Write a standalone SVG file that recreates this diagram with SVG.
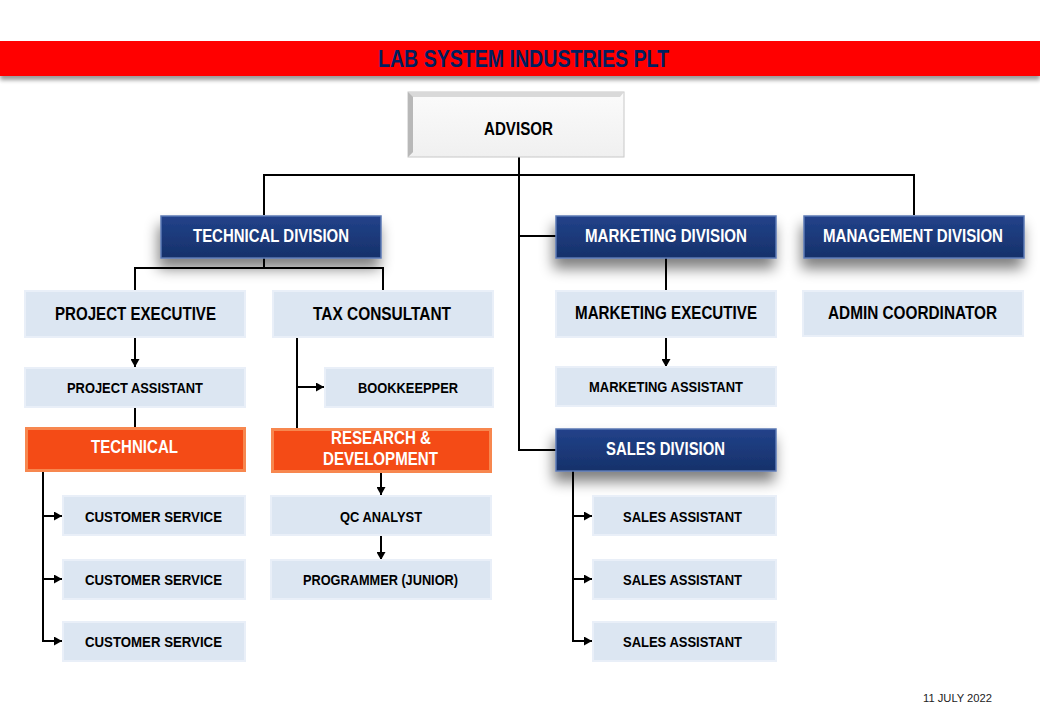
<svg xmlns="http://www.w3.org/2000/svg" width="1040" height="720" viewBox="0 0 1040 720">
<defs>
<style>
text{font-family:"Liberation Sans",Arial,sans-serif;font-weight:bold;}
.lt{fill:#dce6f2;stroke:#e9eff8;stroke-width:2;}
.nv{fill:url(#gNavy);stroke:#5b78b4;stroke-width:1.5;}
.or{fill:#f44b16;stroke:#f7874f;stroke-width:3;}
.w{fill:#ffffff;}
.b{fill:#000000;}
.c{fill:none;stroke:#000;stroke-width:2;}
.a{marker-end:url(#arr);}
</style>
<linearGradient id="gNavy" x1="0" y1="0" x2="0" y2="1">
<stop offset="0" stop-color="#22428a"/>
<stop offset="1" stop-color="#16316a"/>
</linearGradient>
<linearGradient id="gAdv" x1="0" y1="0" x2="0" y2="1">
<stop offset="0" stop-color="#fbfbfb"/>
<stop offset="1" stop-color="#f0f0f0"/>
</linearGradient>
<filter id="sh" x="-30%" y="-40%" width="160%" height="220%">
<feGaussianBlur in="SourceAlpha" stdDeviation="7"/>
<feOffset dx="-2" dy="10" result="o"/>
<feComponentTransfer><feFuncA type="linear" slope="0.5"/></feComponentTransfer>
<feMerge><feMergeNode/><feMergeNode in="SourceGraphic"/></feMerge>
</filter>
<filter id="sh2" x="-5%" y="-20%" width="110%" height="160%">
<feGaussianBlur in="SourceAlpha" stdDeviation="2"/>
<feOffset dx="0" dy="4"/>
<feComponentTransfer><feFuncA type="linear" slope="0.4"/></feComponentTransfer>
<feMerge><feMergeNode/><feMergeNode in="SourceGraphic"/></feMerge>
</filter>
<marker id="arr" markerUnits="userSpaceOnUse" markerWidth="9" markerHeight="9" refX="8" refY="4.5" orient="auto">
<path d="M0,0 L8,4.5 L0,9 z" fill="#000"/>
</marker>
</defs>
<rect width="1040" height="720" fill="#ffffff"/>

<g id="title">
<rect x="0" y="41" width="1040" height="35" fill="#ff0000" filter="url(#sh2)"/>
<text x="378" y="67" font-size="23" fill="#002060" textLength="291" lengthAdjust="spacingAndGlyphs">LAB SYSTEM INDUSTRIES PLT</text>
</g>

<g id="connectors">
<path class="c" d="M519 157 V450 H556"/>
<path class="c" d="M519 236 H556"/>
<path class="c" d="M264 215 V175 H914 V215"/>
<path class="c" d="M264 258 V268"/>
<path class="c" d="M135 290 V268 H383 V290"/>
<path class="c a" d="M135 338 V367"/>
<path class="c" d="M135 407 V427"/>
<path class="c" d="M297 338 V428"/>
<path class="c a" d="M297 387 H324"/>
<path class="c" d="M666 258 V290"/>
<path class="c a" d="M666 338 V367"/>
<path class="c a" d="M381 472 V495"/>
<path class="c a" d="M381 536 V560"/>
<path class="c a" d="M43 472 V641 H62"/>
<path class="c a" d="M43 516 H62"/>
<path class="c a" d="M43 579 H62"/>
<path class="c a" d="M573 471 V641 H592"/>
<path class="c a" d="M573 516 H592"/>
<path class="c a" d="M573 579 H592"/>
</g>

<g id="advisor">
<rect x="408" y="92" width="216" height="65" fill="url(#gAdv)" stroke="#c8c8c8" stroke-width="1"/>
<path d="M408 92 H624 L620 97 H413 V152 L408 157 Z" fill="#d9d9d9"/>
<path d="M408 92 L413 97 V152 L408 157 Z" fill="#b8b8b8"/>
<text x="484" y="135" font-size="18" class="b" textLength="69" lengthAdjust="spacingAndGlyphs">ADVISOR</text>
</g>

<g id="technical-division">
<rect x="161" y="216" width="220" height="42" class="nv" filter="url(#sh)"/>
<text x="193" y="242" font-size="18" class="w" textLength="156" lengthAdjust="spacingAndGlyphs">TECHNICAL DIVISION</text>
</g>
<g id="marketing-division">
<rect x="556" y="216" width="220" height="42" class="nv" filter="url(#sh)"/>
<text x="585" y="242" font-size="18" class="w" textLength="162" lengthAdjust="spacingAndGlyphs">MARKETING DIVISION</text>
</g>
<g id="management-division">
<rect x="804" y="216" width="220" height="42" class="nv" filter="url(#sh)"/>
<text x="823" y="242" font-size="18" class="w" textLength="180" lengthAdjust="spacingAndGlyphs">MANAGEMENT DIVISION</text>
</g>

<g id="project-executive">
<rect x="25" y="291" width="220" height="46" class="lt"/>
<text x="55" y="320" font-size="19" class="b" textLength="161" lengthAdjust="spacingAndGlyphs">PROJECT EXECUTIVE</text>
</g>
<g id="tax-consultant">
<rect x="273" y="291" width="220" height="46" class="lt"/>
<text x="313" y="320" font-size="19" class="b" textLength="138" lengthAdjust="spacingAndGlyphs">TAX CONSULTANT</text>
</g>
<g id="marketing-executive">
<rect x="556" y="291" width="220" height="46" class="lt"/>
<text x="575" y="319" font-size="19" class="b" textLength="182" lengthAdjust="spacingAndGlyphs">MARKETING EXECUTIVE</text>
</g>
<g id="admin-coordinator">
<rect x="803" y="291" width="220" height="45" class="lt"/>
<text x="828" y="319" font-size="19" class="b" textLength="169" lengthAdjust="spacingAndGlyphs">ADMIN COORDINATOR</text>
</g>

<g id="project-assistant">
<rect x="25" y="368" width="220" height="39" class="lt"/>
<text x="67" y="393" font-size="15" class="b" textLength="136" lengthAdjust="spacingAndGlyphs">PROJECT ASSISTANT</text>
</g>
<g id="bookkeeper">
<rect x="325" y="368" width="168" height="39" class="lt"/>
<text x="358" y="393" font-size="15" class="b" textLength="100" lengthAdjust="spacingAndGlyphs">BOOKKEEPPER</text>
</g>
<g id="marketing-assistant">
<rect x="556" y="367" width="220" height="39" class="lt"/>
<text x="589" y="392" font-size="15" class="b" textLength="154" lengthAdjust="spacingAndGlyphs">MARKETING ASSISTANT</text>
</g>

<g id="technical">
<rect x="26.5" y="428.5" width="218" height="42" class="or"/>
<text x="91" y="453" font-size="18" class="w" textLength="87" lengthAdjust="spacingAndGlyphs">TECHNICAL</text>
</g>
<g id="research-development">
<rect x="272.5" y="429.5" width="218" height="42" class="or"/>
<text x="331" y="444" font-size="18" class="w" textLength="100" lengthAdjust="spacingAndGlyphs">RESEARCH &amp;</text>
<text x="323" y="465" font-size="18" class="w" textLength="115" lengthAdjust="spacingAndGlyphs">DEVELOPMENT</text>
</g>
<g id="sales-division">
<rect x="556" y="429" width="220" height="42" class="nv" filter="url(#sh)"/>
<text x="606" y="455" font-size="18" class="w" textLength="119" lengthAdjust="spacingAndGlyphs">SALES DIVISION</text>
</g>

<g id="customer-service-1">
<rect x="63" y="496" width="182" height="39" class="lt"/>
<text x="85" y="522" font-size="15" class="b" textLength="137" lengthAdjust="spacingAndGlyphs">CUSTOMER SERVICE</text>
</g>
<g id="customer-service-2">
<rect x="63" y="560" width="182" height="39" class="lt"/>
<text x="85" y="585" font-size="15" class="b" textLength="137" lengthAdjust="spacingAndGlyphs">CUSTOMER SERVICE</text>
</g>
<g id="customer-service-3">
<rect x="63" y="622" width="182" height="39" class="lt"/>
<text x="85" y="647" font-size="15" class="b" textLength="137" lengthAdjust="spacingAndGlyphs">CUSTOMER SERVICE</text>
</g>

<g id="qc-analyst">
<rect x="271" y="496" width="220" height="39" class="lt"/>
<text x="340" y="522" font-size="15" class="b" textLength="82" lengthAdjust="spacingAndGlyphs">QC ANALYST</text>
</g>
<g id="programmer-junior">
<rect x="271" y="560" width="220" height="39" class="lt"/>
<text x="303" y="585" font-size="15" class="b" textLength="155" lengthAdjust="spacingAndGlyphs">PROGRAMMER (JUNIOR)</text>
</g>

<g id="sales-assistant-1">
<rect x="593" y="496" width="183" height="39" class="lt"/>
<text x="623" y="522" font-size="15" class="b" textLength="119" lengthAdjust="spacingAndGlyphs">SALES ASSISTANT</text>
</g>
<g id="sales-assistant-2">
<rect x="593" y="560" width="183" height="39" class="lt"/>
<text x="623" y="585" font-size="15" class="b" textLength="119" lengthAdjust="spacingAndGlyphs">SALES ASSISTANT</text>
</g>
<g id="sales-assistant-3">
<rect x="593" y="622" width="183" height="39" class="lt"/>
<text x="623" y="647" font-size="15" class="b" textLength="119" lengthAdjust="spacingAndGlyphs">SALES ASSISTANT</text>
</g>

<g id="date">
<text x="923" y="702" font-size="11" fill="#222" style="font-weight:normal" textLength="69" lengthAdjust="spacingAndGlyphs">11 JULY 2022</text>
</g>
</svg>
